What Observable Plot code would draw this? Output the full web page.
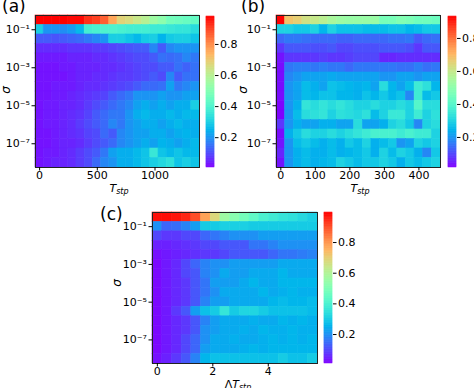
<!DOCTYPE html>
<html><head><meta charset="utf-8">
<script src="https://cdn.jsdelivr.net/npm/d3@7"></script>
<script src="https://cdn.jsdelivr.net/npm/@observablehq/plot@0.6"></script>
<style>
body{margin:0;background:#fff;}
#fig{position:relative;width:474px;height:388px;overflow:hidden;font-family:"DejaVu Sans",sans-serif;color:#000;background:#fff;}
.abs{position:absolute;white-space:nowrap;line-height:1;}
.plab{font-size:17px;}
.xlab{font-size:11px;transform:translate(-50%,-50%);}
.xlab sub{font-size:8px;vertical-align:-2px;line-height:0;}
.ylab{font-size:12px;font-style:italic;transform:translate(-50%,-50%) rotate(-90deg);}
</style></head><body><div id="fig"></div>
<script>
// ---- data ----
const sigmaExponents = [-0.5,-1,-1.5,-2,-2.5,-3,-3.5,-4,-4.5,-5,-5.5,-6,-6.5,-7,-7.5,-8]; // log10(sigma), row centres
const sigmaTicks = [1e-1,1e-3,1e-5,1e-7];
const colorbarTicks = [0.2,0.4,0.6,0.8];

const tstpA = [0,71,142,213,284,355,426,497,568,639,711,782,853,924,995,1066,1137,1208,1279,1350];
const xTicksA = [0,500,1000];
const colorDomainA = [0.008,0.98];
const valuesA = [
[0.98,0.98,0.98,0.98,0.97,0.97,0.92,0.9,0.86,0.76,0.68,0.66,0.63,0.6,0.55,0.52,0.47,0.46,0.45,0.44],
[0.3,0.2,0.2,0.19,0.21,0.26,0.38,0.39,0.4,0.4,0.39,0.38,0.38,0.38,0.37,0.37,0.36,0.35,0.35,0.33],
[0.12,0.12,0.11,0.12,0.13,0.14,0.16,0.18,0.2,0.3,0.3,0.28,0.26,0.29,0.3,0.25,0.29,0.3,0.3,0.28],
[0.06,0.06,0.06,0.06,0.07,0.07,0.07,0.08,0.08,0.09,0.1,0.11,0.12,0.12,0.18,0.12,0.18,0.2,0.2,0.2],
[0.04,0.04,0.04,0.04,0.05,0.05,0.05,0.06,0.06,0.07,0.08,0.09,0.1,0.1,0.12,0.15,0.14,0.15,0.18,0.16],
[0.03,0.03,0.03,0.04,0.04,0.05,0.05,0.05,0.06,0.06,0.07,0.08,0.09,0.1,0.1,0.12,0.12,0.15,0.13,0.15],
[0.03,0.03,0.03,0.03,0.04,0.05,0.05,0.06,0.06,0.07,0.08,0.08,0.09,0.1,0.12,0.1,0.18,0.12,0.15,0.15],
[0.03,0.03,0.04,0.04,0.04,0.05,0.06,0.06,0.07,0.08,0.09,0.1,0.12,0.14,0.14,0.15,0.22,0.16,0.18,0.2],
[0.03,0.03,0.04,0.04,0.05,0.06,0.07,0.08,0.09,0.12,0.14,0.16,0.2,0.2,0.2,0.22,0.2,0.2,0.22,0.22],
[0.03,0.04,0.04,0.05,0.05,0.06,0.08,0.1,0.12,0.14,0.16,0.18,0.22,0.24,0.22,0.24,0.22,0.24,0.24,0.3],
[0.03,0.04,0.04,0.05,0.06,0.07,0.09,0.12,0.14,0.16,0.16,0.2,0.24,0.26,0.24,0.24,0.26,0.24,0.26,0.26],
[0.03,0.04,0.04,0.05,0.06,0.08,0.1,0.12,0.14,0.18,0.16,0.2,0.22,0.24,0.24,0.22,0.24,0.26,0.24,0.24],
[0.03,0.03,0.04,0.05,0.06,0.07,0.09,0.1,0.14,0.12,0.18,0.2,0.22,0.22,0.24,0.24,0.22,0.24,0.25,0.24],
[0.03,0.03,0.04,0.05,0.05,0.06,0.08,0.1,0.12,0.14,0.18,0.2,0.22,0.24,0.22,0.25,0.24,0.22,0.24,0.26],
[0.03,0.04,0.04,0.05,0.06,0.08,0.1,0.12,0.16,0.22,0.24,0.24,0.26,0.28,0.36,0.28,0.26,0.28,0.26,0.26],
[0.03,0.04,0.05,0.05,0.06,0.08,0.1,0.14,0.18,0.2,0.24,0.24,0.26,0.28,0.3,0.32,0.34,0.28,0.3,0.28]
];

const tstpB = [0,25,50,75,100,125,150,175,200,225,250,275,300,325,350,375,400,425,450];
const xTicksB = [0,100,200,300,400];
const colorDomainB = [0.018,0.933];
const valuesB = [
[0.94,0.68,0.66,0.62,0.6,0.58,0.55,0.53,0.52,0.52,0.52,0.52,0.46,0.46,0.48,0.47,0.45,0.45,0.44],
[0.3,0.3,0.28,0.28,0.3,0.25,0.3,0.27,0.27,0.27,0.26,0.26,0.26,0.27,0.27,0.25,0.26,0.28,0.28],
[0.14,0.16,0.16,0.15,0.14,0.14,0.14,0.13,0.13,0.14,0.14,0.14,0.14,0.15,0.15,0.16,0.12,0.14,0.15],
[0.08,0.12,0.12,0.12,0.11,0.11,0.12,0.1,0.1,0.11,0.11,0.11,0.12,0.12,0.12,0.11,0.08,0.12,0.12],
[0.04,0.08,0.08,0.08,0.08,0.09,0.08,0.08,0.09,0.1,0.1,0.1,0.06,0.06,0.07,0.07,0.07,0.07,0.07],
[0.03,0.16,0.17,0.17,0.16,0.17,0.16,0.16,0.14,0.16,0.16,0.16,0.16,0.16,0.15,0.15,0.17,0.15,0.16],
[0.03,0.18,0.2,0.22,0.22,0.22,0.23,0.22,0.22,0.22,0.22,0.22,0.2,0.2,0.22,0.22,0.2,0.22,0.22],
[0.03,0.2,0.22,0.26,0.24,0.22,0.27,0.26,0.25,0.24,0.25,0.22,0.32,0.25,0.22,0.26,0.36,0.33,0.25],
[0.03,0.2,0.22,0.26,0.25,0.27,0.27,0.25,0.25,0.24,0.27,0.25,0.28,0.25,0.27,0.18,0.36,0.26,0.28],
[0.02,0.2,0.24,0.34,0.32,0.34,0.32,0.34,0.32,0.3,0.3,0.32,0.3,0.3,0.32,0.3,0.4,0.32,0.32],
[0.02,0.2,0.26,0.32,0.33,0.34,0.3,0.33,0.32,0.31,0.33,0.26,0.3,0.35,0.35,0.3,0.36,0.3,0.33],
[0.08,0.2,0.24,0.22,0.22,0.24,0.24,0.22,0.22,0.32,0.22,0.22,0.24,0.3,0.32,0.28,0.18,0.3,0.32],
[0.03,0.24,0.28,0.32,0.3,0.3,0.32,0.3,0.32,0.34,0.36,0.38,0.38,0.38,0.36,0.38,0.36,0.36,0.3],
[0.04,0.2,0.26,0.28,0.26,0.24,0.26,0.24,0.28,0.26,0.3,0.24,0.26,0.28,0.2,0.22,0.3,0.28,0.3],
[0.06,0.2,0.24,0.26,0.24,0.24,0.26,0.24,0.25,0.26,0.28,0.24,0.3,0.26,0.3,0.28,0.24,0.18,0.28],
[0.04,0.2,0.24,0.26,0.24,0.25,0.26,0.3,0.28,0.26,0.28,0.28,0.3,0.28,0.24,0.28,0.26,0.28,0.3]
];

const lambdaTstpC = [0,0.35,0.7,1.05,1.4,1.75,2.1,2.45,2.8,3.15,3.5,3.85,4.2,4.55,4.9,5.25,5.6];
const xTicksC = [0,2,4];
const colorDomainC = [0.011,0.996];
const valuesC = [
[0.98,0.98,0.97,0.95,0.9,0.78,0.68,0.56,0.52,0.48,0.44,0.4,0.38,0.36,0.35,0.33,0.31],
[0.2,0.14,0.15,0.18,0.22,0.3,0.3,0.31,0.31,0.31,0.3,0.3,0.3,0.3,0.3,0.3,0.3],
[0.1,0.08,0.08,0.1,0.1,0.14,0.16,0.18,0.2,0.2,0.2,0.22,0.22,0.22,0.22,0.22,0.22],
[0.05,0.05,0.06,0.07,0.08,0.1,0.1,0.12,0.12,0.12,0.16,0.16,0.18,0.2,0.2,0.2,0.2],
[0.03,0.04,0.05,0.06,0.07,0.08,0.08,0.1,0.12,0.12,0.12,0.12,0.14,0.16,0.16,0.17,0.18],
[0.02,0.04,0.06,0.1,0.14,0.18,0.2,0.2,0.22,0.22,0.22,0.22,0.22,0.24,0.24,0.24,0.24],
[0.02,0.04,0.06,0.1,0.12,0.18,0.2,0.24,0.22,0.22,0.24,0.24,0.24,0.26,0.24,0.24,0.24],
[0.02,0.04,0.06,0.08,0.12,0.16,0.22,0.22,0.22,0.24,0.26,0.24,0.24,0.26,0.26,0.26,0.26],
[0.02,0.04,0.06,0.08,0.12,0.16,0.2,0.24,0.24,0.24,0.24,0.26,0.24,0.25,0.26,0.25,0.25],
[0.02,0.04,0.06,0.08,0.12,0.18,0.22,0.22,0.24,0.24,0.24,0.24,0.26,0.27,0.26,0.26,0.27],
[0.02,0.04,0.08,0.12,0.22,0.28,0.3,0.36,0.3,0.32,0.32,0.3,0.28,0.28,0.28,0.28,0.27],
[0.02,0.04,0.06,0.08,0.12,0.18,0.22,0.24,0.24,0.24,0.25,0.24,0.24,0.26,0.25,0.26,0.25],
[0.02,0.04,0.06,0.08,0.12,0.2,0.22,0.24,0.24,0.25,0.24,0.26,0.25,0.25,0.26,0.25,0.25],
[0.02,0.04,0.06,0.1,0.14,0.2,0.24,0.24,0.25,0.24,0.24,0.25,0.26,0.25,0.26,0.25,0.26],
[0.02,0.04,0.06,0.1,0.14,0.22,0.24,0.24,0.24,0.25,0.26,0.25,0.26,0.26,0.26,0.26,0.26],
[0.03,0.05,0.08,0.12,0.18,0.26,0.28,0.28,0.28,0.28,0.28,0.28,0.28,0.3,0.28,0.28,0.3]
];

// ---- helpers ----
function mplRainbow(t) {
  const r = Math.min(1, Math.abs(2 * t - 0.5));
  const g = Math.max(0, Math.sin(Math.PI * t));
  const b = Math.max(0, Math.cos(Math.PI * t / 2));
  return `rgb(${Math.round(r * 255)},${Math.round(g * 255)},${Math.round(b * 255)})`;
}
const sup = {"-":"\u207B","0":"\u2070","1":"\u00B9","2":"\u00B2","3":"\u00B3","4":"\u2074","5":"\u2075","6":"\u2076","7":"\u2077","8":"\u2078","9":"\u2079"};
const powFormat = d => "10" + String(Math.round(Math.log10(d))).split("").map(c => sup[c]).join("");
const baseStyle = {fontFamily: "DejaVu Sans", fontSize: "11px", color: "#000", background: "transparent", overflow: "visible"};
const fig = document.getElementById("fig");

function place(el, left, top) {
  el.style.position = "absolute";
  el.style.left = left + "px";
  el.style.top = top + "px";
  fig.appendChild(el);
}

function heatmap({xs, values, xTicks, colorDomain, left, top, width, height, mt, mr, mb, ml}) {
  const step = (xs[xs.length - 1] - xs[0]) / (xs.length - 1);
  const cells = [];
  values.forEach((row, i) => row.forEach((v, j) => cells.push({x: xs[j], e: sigmaExponents[i], v})));
  const svg = Plot.plot({
    width, height, marginTop: mt, marginRight: mr, marginBottom: mb, marginLeft: ml,
    style: baseStyle,
    x: {domain: [xs[0] - step / 2, xs[xs.length - 1] + step / 2]},
    y: {type: "log", domain: [10 ** (sigmaExponents[sigmaExponents.length - 1] - 0.25), 10 ** (sigmaExponents[0] + 0.25)]},
    color: {type: "linear", domain: colorDomain, interpolate: mplRainbow, clamp: true},
    marks: [
      Plot.rect(cells, {x1: d => d.x - step / 2, x2: d => d.x + step / 2, y1: d => 10 ** (d.e - 0.25), y2: d => 10 ** (d.e + 0.25), fill: "v", stroke: "v", strokeWidth: 0.6}),
      Plot.frame({stroke: "#222", strokeWidth: 1}),
      Plot.axisX({ticks: xTicks, tickSize: 3.5, tickPadding: 0, label: null, tickFormat: d => String(d)}),
      Plot.axisY({ticks: sigmaTicks, tickSize: 3.5, tickPadding: 2, label: null, tickFormat: powFormat})
    ]
  });
  place(svg, left, top);
}

function colorbar({domain, left, top, height, mt, mb}) {
  const n = 240;
  const h = (domain[1] - domain[0]) / n;
  const ramp = d3.range(n).map(i => domain[0] + h * (i + 0.5));
  const svg = Plot.plot({
    width: 40, height, marginTop: mt, marginBottom: mb, marginLeft: 0, marginRight: 32,
    style: baseStyle,
    x: {domain: [0, 1], axis: null},
    y: {domain},
    color: {type: "linear", domain, interpolate: mplRainbow},
    marks: [
      Plot.rect(ramp, {x1: 0, x2: 1, y1: d => d - h / 2, y2: d => d + h / 2, fill: d => d, stroke: d => d, strokeWidth: 0.5}),
      Plot.axisY({anchor: "right", ticks: colorbarTicks, tickSize: 3.5, tickPadding: 2, label: null, tickFormat: d => d.toFixed(1)})
    ]
  });
  place(svg, left, top);
}

function text(html, cls, x, y) {
  const d = document.createElement("div");
  d.className = "abs " + cls;
  d.innerHTML = html;
  d.style.left = x + "px";
  d.style.top = y + "px";
  fig.appendChild(d);
}

// ---- panels ----
heatmap({xs: tstpA, values: valuesA, xTicks: xTicksA, colorDomain: colorDomainA, left: 0, top: 0, width: 240, height: 190, mt: 15, mr: 41, mb: 23, ml: 35});
colorbar({domain: colorDomainA, left: 206, top: 0, height: 190, mt: 16, mb: 23});

heatmap({xs: tstpB, values: valuesB, xTicks: xTicksB, colorDomain: colorDomainB, left: 237, top: 0, width: 237, height: 190, mt: 15, mr: 34, mb: 23, ml: 39});
colorbar({domain: colorDomainB, left: 448, top: 0, height: 190, mt: 16, mb: 23});

heatmap({xs: lambdaTstpC, values: valuesC, xTicks: xTicksC, colorDomain: colorDomainC, left: 100, top: 195, width: 240, height: 193, mt: 17, mr: 23, mb: 25, ml: 52});
colorbar({domain: colorDomainC, left: 324, top: 195, height: 193, mt: 17, mb: 25});

// ---- labels ----
text("(a)", "plab", 2, -2);
text("(b)", "plab", 241, -2);
text("(c)", "plab", 100, 206);
text("<i>T</i><sub><i>stp</i></sub>", "xlab", 119, 188);
text("<i>T</i><sub><i>stp</i></sub>", "xlab", 360, 188);
text("\u039B<i>T</i><sub><i>stp</i></sub>", "xlab", 238, 384);
text("\u03C3", "ylab", 6, 90);
text("\u03C3", "ylab", 243, 90);
text("\u03C3", "ylab", 117, 283);
</script>
</body></html>
